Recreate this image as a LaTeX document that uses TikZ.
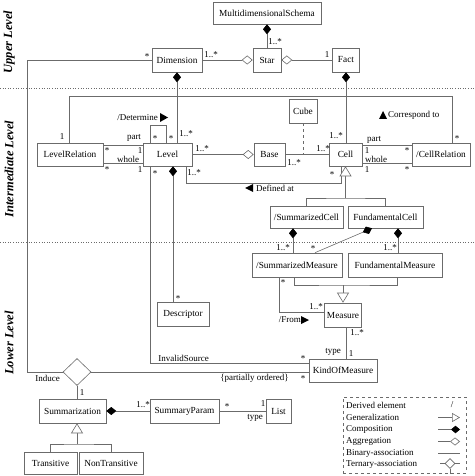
\documentclass[tikz,border=0pt]{standalone}
\usepackage{fontspec}
\setmainfont{Liberation Serif}
\usetikzlibrary{arrows.meta,shapes.geometric}
\definecolor{lc}{gray}{0.42}
\begin{document}
\begin{tikzpicture}[x=1pt,y=-1pt,
  box/.style={draw=lc, fill=white, inner sep=0pt, line width=0.6pt, font=\fontsize{9.3}{11}\selectfont},
  lab/.style={inner sep=0pt, font=\fontsize{9}{10}\selectfont},
  ln/.style={draw=lc, line width=0.6pt},
  comp/.style={ln, arrows={Diamond[length=10pt,width=8pt,color=black]-}},
  agg/.style={ln, arrows={-Diamond[open,length=11pt,width=9pt,fill=white]}},
  gen/.style={ln, arrows={-Triangle[open,length=10pt,width=12pt,fill=white]}},
  side/.style={rotate=90, inner sep=0pt, font=\bfseries\itshape\fontsize{12.5}{14}\selectfont},
]
\useasboundingbox (0,0) rectangle (474,476);

% level dividers
\coordinate (dva) at (0,88); \coordinate (dvb) at (474,88);
\coordinate (dvc) at (0,242); \coordinate (dvd) at (474,242);
\draw[lc, dotted, line width=0.6pt] (dva) -- (dvb);
\draw[lc, dotted, line width=0.6pt] (dvc) -- (dvd);

\node[side] (sl1) at (9,42) {Upper Level};
\node[side] (sl2) at (9,169) {Intermediate Level};
\node[side] (sl3) at (9,343) {Lower Level};

% boxes
\node[box,minimum width=108pt,minimum height=22pt] (MS) at (267,13) {MultidimensionalSchema};
\node[box,minimum width=28pt,minimum height=24pt] (Star) at (267,60) {Star};
\node[box,minimum width=27pt,minimum height=24pt] (Fact) at (346,60) {Fact};
\node[box,minimum width=50pt,minimum height=24pt] (Dimension) at (177,60) {Dimension};
\node[box,minimum width=66pt,minimum height=23pt] (LevelRelation) at (70,154.5) {LevelRelation};
\node[box,minimum width=49pt,minimum height=23pt] (Level) at (167.5,154.5) {Level};
\node[box,minimum width=31pt,minimum height=23pt] (Base) at (269.5,154.5) {Base};
\node[box,minimum width=28pt,minimum height=24pt] (Cube) at (303,111) {Cube};
\node[box,minimum width=33pt,minimum height=23pt] (Cell) at (345.5,154.5) {Cell};
\node[box,minimum width=58pt,minimum height=23pt] (CellRelation) at (441,154.5) {/CellRelation};
\node[box,minimum width=73pt,minimum height=22pt] (SC) at (306.5,217) {/SummarizedCell};
\node[box,minimum width=75pt,minimum height=22pt] (FC) at (385.5,217) {FundamentalCell};
\node[box,minimum width=90pt,minimum height=24pt] (SM) at (297,265) {/SummarizedMeasure};
\node[box,minimum width=94pt,minimum height=24pt] (FM) at (395,265) {FundamentalMeasure};
\node[box,minimum width=37pt,minimum height=24pt] (Measure) at (343,315) {Measure};
\node[box,minimum width=52pt,minimum height=24pt] (Descriptor) at (183,314) {Descriptor};
\node[box,minimum width=68pt,minimum height=23pt] (KOM) at (343,370.5) {KindOfMeasure};
\node[box,minimum width=67pt,minimum height=24pt] (Summarization) at (72.5,411) {Summarization};
\node[box,minimum width=69pt,minimum height=24pt] (SummaryParam) at (184.5,411) {SummaryParam};
\node[box,minimum width=25pt,minimum height=24pt] (List) at (278.5,411) {List};
\node[box,minimum width=53pt,minimum height=22pt] (Transitive) at (50.5,463) {Transitive};
\node[box,minimum width=64pt,minimum height=22pt] (NonTransitive) at (111,463) {NonTransitive};
\node[draw=lc, fill=white, diamond, inner sep=0pt, minimum width=28pt, minimum height=27pt, line width=0.6pt] (tern) at (77,372) {};

% upper level connectors
\draw[comp] (MS.south) -- (Star.north);
\draw[agg] (Dimension.east) -- (Star.west);
\draw[agg] (Fact.west) -- (Star.east);
\draw[comp] (Dimension.south) -- (Dimension.south |- Level.north);
\draw[comp] (Fact.south) -- (Fact.south |- Cell.north);

% Dimension to ternary association
\coordinate (cL) at (27,372);
\draw[ln] (Dimension.west) -| (cL) -- (tern.west);
\draw[ln] (tern.east) -- (tern.east -| KOM.west);
\draw[ln] (tern.south) -- (tern.south |- Summarization.north);

% InvalidSource
\coordinate (isrc) at (150,363);
\draw[ln] (Level.south -| isrc) -- (isrc) -- (isrc -| KOM.west);

% Descriptor
\coordinate (dsc) at (173,0);
\draw[comp] (Level.south -| dsc) -- (Descriptor.north -| dsc);

% Determine loop
\coordinate (lpA) at (150,125); \coordinate (lpB) at (166,125);
\draw[ln] (Level.north -| lpA) -- (lpA) -- (lpB) -- (Level.north -| lpB);

% part / whole
\coordinate (r1) at (0,145); \coordinate (r2) at (0,163);
\draw[ln] (LevelRelation.east |- r1) -- (Level.west |- r1);
\draw[ln] (LevelRelation.east |- r2) -- (Level.west |- r2);
\draw[ln] (Cell.east |- r1) -- (CellRelation.west |- r1);
\draw[ln] (Cell.east |- r2) -- (CellRelation.west |- r2);

% Correspond to
\coordinate (bt1) at (69,96); \coordinate (bt2) at (452,96);
\draw[ln] (LevelRelation.north -| bt1) -- (bt1) -- (bt2) -- (CellRelation.north -| bt2);

% Level - Base - Cell
\draw[agg] (Level.east) -- (Base.west);
\draw[ln] (Base.east) -- (Cell.west);
\draw[ln, dashed] (Cube.south) -- (Cube.south |- Base.east);

% Defined at
\coordinate (da1) at (186,183); \coordinate (da2) at (341,183);
\draw[ln] (Level.south -| da1) -- (da1) -- (da2) -- (Cell.south -| da2);

% Cell generalization
\coordinate (j1) at (345.5,198);
\draw[gen] (j1) -- (Cell.south);
\draw[ln] (SC.north) |- (j1) -| (FC.north);

% cells to measures
\coordinate (x293) at (293,0); \coordinate (x372) at (372,0);
\coordinate (x315) at (315,0); \coordinate (x398) at (398,0);
\draw[comp] (SC.south -| x293) -- (SM.north -| x293);
\draw[comp] (FC.south -| x372) -- (SM.north -| x315);
\draw[comp] (FC.south -| x398) -- (FM.north -| x398);

% Measure generalization
\coordinate (j2) at (343,285); \coordinate (x294) at (294,0); \coordinate (x397) at (397,0);
\draw[ln] (SM.south -| x294) |- (j2) -| (FM.south -| x397);
\draw[gen] (j2) -- (Measure.north);

% From
\coordinate (fr) at (279,312);
\draw[ln] (SM.south -| fr) -- (fr) -- (fr -| Measure.west);

% Measure - KindOfMeasure
\coordinate (x346) at (346,0);
\draw[ln] (Measure.south -| x346) -- (KOM.north -| x346);

% Summarization
\draw[comp] (Summarization.east) -- (SummaryParam.west);
\draw[ln] (SummaryParam.east) -- (List.west);
\coordinate (j3) at (77,444);
\draw[ln] (Transitive.north) |- (j3) -| (NonTransitive.north);
\draw[gen] (j3) -- (Summarization.south -| j3);

% labels
\node[lab] (m1) at (275,42) {1..*};
\node[lab] (m2) at (211,55) {1..*};
\node[lab] (m3) at (147,57) {*};
\node[lab] (m4) at (327,55) {1};
\node[lab] (m5) at (62,137) {1};
\node[lab] (m6) at (134,138) {part};
\node[lab] (m7) at (128,159) {whole};
\node[lab] (m8) at (107,151) {*};
\node[lab] (m9) at (140,151) {1};
\node[lab] (m10) at (107,170) {*};
\node[lab] (m11) at (140,170) {1};
\node[lab] (m12) at (155,139) {*};
\node[lab] (m13) at (171,139) {*};
\node[lab] (m14) at (186,134) {1..*};
\node[lab, anchor=east] (m15) at (158,118) {/Determine};
\fill[black] (160,113) -- (168,117.5) -- (160,122) -- cycle;
\node[lab] (m16) at (202,149) {1..*};
\node[lab] (m17) at (194,173) {1..*};
\node[lab] (m18) at (155,174) {*};
\node[lab] (m19) at (178,299) {*};
\node[lab] (m20) at (294,163) {1..*};
\node[lab] (m21) at (323,149) {1..*};
\node[lab] (m22) at (336,136) {1..*};
\node[lab] (m23) at (332,175) {*};
\fill[black] (253,184) -- (245,188) -- (253,192) -- cycle;
\node[lab, anchor=west] (m24) at (256,188) {Defined at};
\node[lab] (m25) at (374,140) {part};
\node[lab] (m26) at (376,159) {whole};
\node[lab] (m27) at (367,151) {1};
\node[lab] (m28) at (367,170) {1};
\node[lab] (m29) at (407,151) {*};
\node[lab] (m30) at (407,170) {*};
\node[lab] (m31) at (457,139) {*};
\fill[black] (383,111) -- (387,119) -- (379,119) -- cycle;
\node[lab, anchor=west] (m32) at (388,115) {Correspond to};
\node[lab] (m33) at (283,248) {1..*};
\node[lab] (m34) at (313,249) {*};
\node[lab] (m35) at (390,248) {1..*};
\node[lab] (m36) at (283,283) {*};
\node[lab] (m37) at (316,307) {1..*};
\node[lab, anchor=east] (m38) at (301,320) {/From};
\fill[black] (301,316) -- (309,320) -- (301,324) -- cycle;
\node[lab] (m39) at (357,333) {1..*};
\node[lab] (m40) at (333,352) {type};
\node[lab] (m41) at (351,354) {1};
\node[lab] (m42) at (183.5,358) {InvalidSource};
\node[lab] (m43) at (303,359) {*};
\node[lab] (m44) at (254.5,378) {\{partially ordered\}};
\node[lab] (m45) at (303,379) {*};
\node[lab] (m46) at (47.5,378) {Induce};
\node[lab] (m47) at (82,393) {1};
\node[lab] (m48) at (143,405) {1..*};
\node[lab] (m49) at (227,407) {*};
\node[lab] (m50) at (263,404) {1};
\node[lab] (m51) at (255,418) {type};

% legend
\node[draw=lc, dashed, line width=0.6pt, minimum width=123pt, minimum height=76pt, inner sep=0pt] (legend) at (404.5,435) {};
\node[lab, anchor=west] (lg1) at (346,405) {Derived element};
\node[lab, anchor=west] (lg2) at (346,417.5) {Generalization};
\node[lab, anchor=west] (lg3) at (346,429.5) {Composition};
\node[lab, anchor=west] (lg4) at (346,441.5) {Aggregation};
\node[lab, anchor=west] (lg5) at (346,453) {Binary-association};
\node[lab, anchor=west] (lg6) at (346,464.5) {Ternary-association};
\node[lab] (lgs1) at (452,405) {/};
\coordinate (ga) at (438,417.5); \coordinate (gb) at (460,417.5);
\coordinate (ca) at (438,429.5); \coordinate (cb) at (460,429.5);
\coordinate (aa) at (438,441.5); \coordinate (ab) at (460,441.5);
\coordinate (ba) at (438,453); \coordinate (bb) at (460,453);
\draw[ln, arrows={-Triangle[open,length=8pt,width=9pt,fill=white]}] (ga) -- (gb);
\draw[ln, arrows={-Diamond[length=9pt,width=7.5pt,color=black]}] (ca) -- (cb);
\draw[ln, arrows={-Diamond[open,length=10pt,width=8pt,fill=white]}] (aa) -- (ab);
\draw[ln] (ba) -- (bb);
\node[draw=lc, fill=white, diamond, inner sep=0pt, minimum width=10pt, minimum height=10pt, line width=0.6pt] (lgd) at (450,463.5) {};
\coordinate (ta) at (440,463.5); \coordinate (tb) at (460,463.5);
\draw[ln] (ta) -- (lgd.west);
\draw[ln] (lgd.east) -- (tb);
\draw[ln] (lgd.south) -- ++(0,5);
\end{tikzpicture}
\end{document}
